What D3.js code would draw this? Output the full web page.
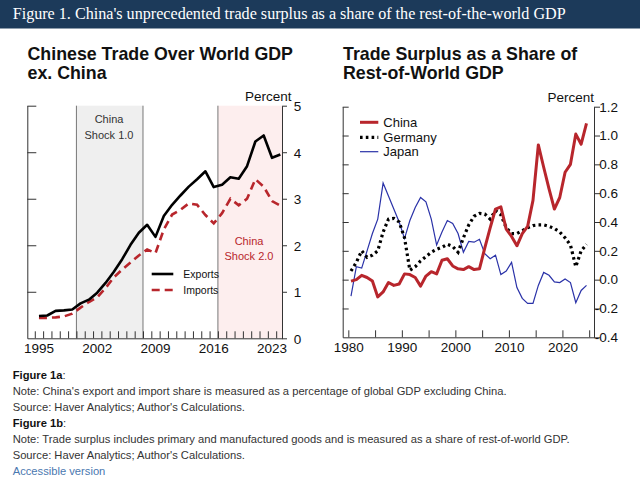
<!DOCTYPE html>
<html lang="en">
<head>
<meta charset="UTF-8">
<title>China trade surplus</title>
<script src="https://d3js.org/d3.v7.min.js"></script>
<style>
  body { margin: 0; background: #fff; }
  svg { display: block; font-family: "Liberation Sans", Arial, sans-serif; }
</style>
</head>
<body>
<svg id="chart" width="640" height="491"></svg>
<script>
// ---- Figure 1a: Chinese trade over world GDP ex. China (percent)
const tradeYears = [1995, 1996, 1997, 1998, 1999, 2000, 2001, 2002, 2003, 2004,
  2005, 2006, 2007, 2008, 2009, 2010, 2011, 2012, 2013, 2014,
  2015, 2016, 2017, 2018, 2019, 2020, 2021, 2022, 2023, 2024];
const exportsShare = [0.48, 0.49, 0.59, 0.60, 0.62, 0.75, 0.83, 0.98, 1.19, 1.43,
  1.70, 2.01, 2.27, 2.44, 2.18, 2.63, 2.87, 3.07, 3.26, 3.42,
  3.59, 3.25, 3.30, 3.46, 3.43, 3.70, 4.23, 4.36, 3.88, 3.95];
const importsShare = [0.44, 0.44, 0.45, 0.47, 0.53, 0.66, 0.78, 0.88, 1.08, 1.31,
  1.48, 1.63, 1.78, 1.91, 1.83, 2.34, 2.66, 2.76, 2.90, 2.87,
  2.65, 2.47, 2.69, 3.00, 2.86, 3.00, 3.42, 3.26, 2.95, 2.85];
const shockStart = [2000, 2017];
const shockEnd = [2008, 2024.7];
const tradeYearLabels = [1995, 2002, 2009, 2016, 2023];
const tradeTicks = [0, 1, 2, 3, 4, 5];

// ---- Figure 1b: trade surplus as a share of rest-of-world GDP (percent)
const surplusYears = [1980, 1981, 1982, 1983, 1984, 1985, 1986, 1987, 1988, 1989,
  1990, 1991, 1992, 1993, 1994, 1995, 1996, 1997, 1998, 1999,
  2000, 2001, 2002, 2003, 2004, 2005, 2006, 2007, 2008, 2009,
  2010, 2011, 2012, 2013, 2014, 2015, 2016, 2017, 2018, 2019,
  2020, 2021, 2022, 2023, 2024];
const chinaSurplus = [-0.01, 0.00, 0.03, 0.015, -0.01, -0.12, -0.085, -0.02, -0.04, -0.03,
  0.04, 0.035, 0.015, -0.045, 0.025, 0.055, 0.04, 0.135, 0.145, 0.095,
  0.075, 0.07, 0.09, 0.07, 0.075, 0.22, 0.36, 0.49, 0.505, 0.35,
  0.30, 0.235, 0.32, 0.37, 0.55, 0.935, 0.78, 0.63, 0.49, 0.57,
  0.745, 0.80, 1.01, 0.94, 1.085];
const germanySurplus = [0.06, 0.12, 0.20, 0.155, 0.17, 0.20, 0.33, 0.42, 0.425, 0.40,
  0.29, 0.065, 0.09, 0.13, 0.16, 0.19, 0.21, 0.225, 0.245, 0.23,
  0.19, 0.29, 0.38, 0.44, 0.46, 0.455, 0.42, 0.48, 0.45, 0.36,
  0.32, 0.32, 0.34, 0.36, 0.375, 0.38, 0.38, 0.37, 0.355, 0.33,
  0.29, 0.24, 0.09, 0.20, 0.245];
const japanSurplus = [-0.115, 0.09, 0.08, 0.20, 0.32, 0.42, 0.67, 0.58, 0.49, 0.40,
  0.285, 0.41, 0.50, 0.57, 0.54, 0.42, 0.24, 0.33, 0.41, 0.39,
  0.32, 0.19, 0.265, 0.26, 0.28, 0.18, 0.145, 0.17, 0.035, 0.06,
  0.12, -0.055, -0.13, -0.165, -0.165, -0.04, 0.05, 0.03, -0.015, -0.02,
  0.005, -0.02, -0.16, -0.075, -0.04];
const surplusXTicks = [1980, 1985, 1990, 1995, 2000, 2005, 2010, 2015, 2020, 2025];
const surplusXLabels = [1980, 1990, 2000, 2010, 2020];
const surplusYTicks = [-0.4, -0.2, 0, 0.2, 0.4, 0.6, 0.8, 1.0, 1.2];

const RED = '#b8262c';
const svg = d3.select('#chart');

// header bar
svg.append('rect').attr('width', 640).attr('height', 28.5).attr('fill', '#1c3a5a');
svg.append('text').attr('x', 12.7).attr('y', 19)
  .attr('fill', '#fff').attr('font-family', 'Georgia, "Liberation Serif", serif')
  .attr('font-size', 16).attr('textLength', 553).attr('lengthAdjust', 'spacingAndGlyphs')
  .text("Figure 1. China's unprecedented trade surplus as a share of the rest-of-the-world GDP");

function title(x, lines) {
  lines.forEach((t, i) => {
    svg.append('text').attr('x', x).attr('y', 60 + i * 19.3)
      .attr('font-size', 17.8).attr('font-weight', 'bold').attr('fill', '#111').text(t);
  });
}
title(27.5, ['Chinese Trade Over World GDP', 'ex. China']);
title(343, ['Trade Surplus as a Share of', 'Rest-of-World GDP']);

// ================= left chart =================
const x1 = d3.scaleLinear().domain([1994.1, 2024.7]).range([27.3, 282]);
const y1 = d3.scaleLinear().domain([0, 5]).range([338.3, 105.7]);
const g1 = svg.append('g');

shockStart.forEach((s, i) => {
  g1.append('rect').attr('x', x1(s)).attr('y', y1(5))
    .attr('width', x1(shockEnd[i]) - x1(s)).attr('height', y1(0) - y1(5))
    .attr('fill', i === 0 ? '#efefef' : '#fdeeee');
  g1.append('line').attr('x1', x1(s)).attr('x2', x1(s)).attr('y1', y1(5)).attr('y2', y1(0))
    .attr('stroke', '#777').attr('stroke-width', 1);
  if (i === 0) {
    g1.append('line').attr('x1', x1(shockEnd[i])).attr('x2', x1(shockEnd[i]))
      .attr('y1', y1(5)).attr('y2', y1(0)).attr('stroke', '#777').attr('stroke-width', 1);
  }
});
g1.append('text').attr('x', 109).attr('y', 123).attr('text-anchor', 'middle')
  .attr('font-size', 11).attr('fill', '#333').text('China');
g1.append('text').attr('x', 109).attr('y', 139).attr('text-anchor', 'middle')
  .attr('font-size', 11).attr('fill', '#333').text('Shock 1.0');
g1.append('text').attr('x', 249).attr('y', 245).attr('text-anchor', 'middle')
  .attr('font-size', 11).attr('fill', RED).text('China');
g1.append('text').attr('x', 249).attr('y', 260).attr('text-anchor', 'middle')
  .attr('font-size', 11).attr('fill', RED).text('Shock 2.0');

const line1 = d3.line().x((d, i) => x1(tradeYears[i] + 0.5)).y(d => y1(d));
g1.append('path').datum(importsShare).attr('d', line1).attr('fill', 'none')
  .attr('stroke', RED).attr('stroke-width', 2.6).attr('stroke-dasharray', '8,5');
g1.append('path').datum(exportsShare).attr('d', line1).attr('fill', 'none')
  .attr('stroke', '#000').attr('stroke-width', 2.6).attr('stroke-linejoin', 'round');

// axes
g1.append('g').attr('transform', `translate(0,${y1(0)})`)
  .call(d3.axisBottom(x1).tickValues(tradeYears).tickSize(-7).tickSizeOuter(0).tickFormat(''));
g1.append('g').attr('transform', `translate(${x1.range()[0]},0)`)
  .call(d3.axisLeft(y1).tickValues(tradeTicks.slice(1)).tickSize(-9).tickSizeOuter(0).tickFormat(''));
const ax1r = g1.append('g').attr('transform', `translate(${x1.range()[1]},0)`)
  .call(d3.axisRight(y1).tickValues(tradeTicks).tickSize(5).tickSizeOuter(0).tickFormat(d3.format('d')));
ax1r.selectAll('text').attr('x', 15.5).attr('text-anchor', 'middle').attr('dy', '0.36em');
g1.selectAll('.domain, .tick line').attr('stroke', '#333');
g1.selectAll('.tick text').attr('font-size', 13.5).attr('fill', '#111').attr('font-family', null);

g1.selectAll('.yearLabel').data(tradeYearLabels).enter().append('text')
  .attr('x', d => x1(d + 0.5)).attr('y', 353).attr('text-anchor', 'middle')
  .attr('font-size', 13.5).attr('fill', '#111').text(d => d);
g1.append('text').attr('x', 291.5).attr('y', 101).attr('text-anchor', 'end')
  .attr('font-size', 13.5).attr('fill', '#111').text('Percent');

// legend
const leg1 = [['Exports', '#000', null, 274], ['Imports', RED, '8,5', 290]];
leg1.forEach(([name, col, dash, ly]) => {
  g1.append('line').attr('x1', 151.7).attr('x2', 173.3).attr('y1', ly).attr('y2', ly)
    .attr('stroke', col).attr('stroke-width', 2.6).attr('stroke-dasharray', dash);
  g1.append('text').attr('x', 183.3).attr('y', ly + 4).attr('font-size', 10.5)
    .attr('fill', '#111').text(name);
});

// ================= right chart =================
const x2 = d3.scaleLinear().domain([1978.95, 2025.9]).range([342.7, 594]);
const y2 = d3.scaleLinear().domain([-0.4, 1.2]).range([337.3, 106.7]);
const g2 = svg.append('g');

const line2 = d3.line().x((d, i) => x2(surplusYears[i] + 0.5)).y(d => y2(d));
g2.append('path').datum(japanSurplus).attr('d', line2).attr('fill', 'none')
  .attr('stroke', '#2a32a8').attr('stroke-width', 1.2);
g2.append('path').datum(germanySurplus).attr('d', line2).attr('fill', 'none')
  .attr('stroke', '#000').attr('stroke-width', 3.2).attr('stroke-dasharray', '2.6,3.2');
g2.append('path').datum(chinaSurplus).attr('d', line2).attr('fill', 'none')
  .attr('stroke', RED).attr('stroke-width', 3).attr('stroke-linejoin', 'round');

g2.append('g').attr('transform', `translate(0,${y2.range()[0]})`)
  .call(d3.axisBottom(x2).tickValues(surplusXTicks).tickSize(-7).tickSizeOuter(0).tickPadding(5)
    .tickFormat(d => surplusXLabels.includes(d) ? d : ''));
g2.append('g').attr('transform', `translate(${x2.range()[0]},0)`)
  .call(d3.axisLeft(y2).tickValues(surplusYTicks.slice(1)).tickSize(-6).tickSizeOuter(0).tickFormat(''));
const ax2r = g2.append('g').attr('transform', `translate(${x2.range()[1]},0)`)
  .call(d3.axisRight(y2).tickValues(surplusYTicks).tickSize(6).tickSizeOuter(0)
    .tickFormat(d => d.toFixed(1)));
ax2r.selectAll('text').attr('x', 24).attr('text-anchor', 'end');
g2.selectAll('.domain, .tick line').attr('stroke', '#333');
g2.selectAll('.tick text').attr('font-size', 13.5).attr('fill', '#111').attr('font-family', null);
g2.append('text').attr('x', 594).attr('y', 101.5).attr('text-anchor', 'end')
  .attr('font-size', 13.5).attr('fill', '#111').text('Percent');

const leg2 = [['China', RED, 3, null, 122.3], ['Germany', '#000', 3.2, '2.6,3.2', 137.3],
  ['Japan', '#2a32a8', 1.2, null, 151.7]];
leg2.forEach(([name, col, w, dash, ly]) => {
  g2.append('line').attr('x1', 360).attr('x2', 378.3).attr('y1', ly).attr('y2', ly)
    .attr('stroke', col).attr('stroke-width', w).attr('stroke-dasharray', dash);
  g2.append('text').attr('x', 383.3).attr('y', ly + 4.5).attr('font-size', 13)
    .attr('fill', '#111').text(name);
});

// ================= notes =================
const notes = [
  ['Figure 1a', ':'],
  [null, "Note: China's export and import share is measured as a percentage of global GDP excluding China."],
  [null, "Source: Haver Analytics; Author's Calculations."],
  ['Figure 1b', ':'],
  [null, 'Note: Trade surplus includes primary and manufactured goods and is measured as a share of rest-of-world GDP.'],
  [null, "Source: Haver Analytics; Author's Calculations."]
];
notes.forEach(([bold, rest], i) => {
  const t = svg.append('text').attr('x', 12.7).attr('y', 378.5 + i * 16)
    .attr('font-size', 11.2).attr('fill', '#333');
  if (bold) t.append('tspan').attr('font-weight', 'bold').attr('fill', '#111').text(bold);
  t.append('tspan').text(rest);
});
svg.append('text').attr('x', 12.7).attr('y', 378.5 + 6 * 16)
  .attr('font-size', 11.2).attr('fill', '#4a78b0').text('Accessible version');
</script>
</body>
</html>
